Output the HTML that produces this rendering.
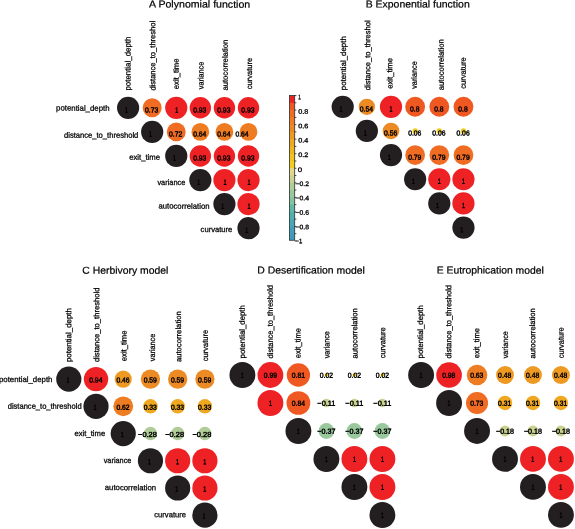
<!DOCTYPE html>
<html><head><meta charset="utf-8"><title>Correlation panels</title>
<style>html,body{margin:0;padding:0;background:#fff;overflow:hidden}svg{display:block}text{font-family:"Liberation Sans", sans-serif;stroke-width:.42px}.l text{stroke-width:.26px}.t{stroke-width:.22px}#colourbar text{stroke-width:.3px}</style></head>
<body>
<svg width="575" height="529" viewBox="0 0 575 529">
<rect width="575" height="529" fill="#fff"/>
<g id="panelA">
<circle cx="128.10" cy="107.80" r="11.10" fill="#231f20"/>
<circle cx="152.18" cy="107.80" r="9.48" fill="#ef6c22"/>
<circle cx="176.26" cy="107.80" r="11.10" fill="#ee2224"/>
<circle cx="200.34" cy="107.80" r="10.70" fill="#ee2224"/>
<circle cx="224.42" cy="107.80" r="10.70" fill="#ee2224"/>
<circle cx="248.50" cy="107.80" r="10.70" fill="#ee2224"/>
<circle cx="152.18" cy="131.88" r="11.10" fill="#231f20"/>
<circle cx="176.26" cy="131.88" r="9.42" fill="#ef6c22"/>
<circle cx="200.34" cy="131.88" r="8.88" fill="#ee7c22"/>
<circle cx="224.42" cy="131.88" r="8.88" fill="#ee7c22"/>
<circle cx="248.50" cy="131.88" r="8.88" fill="#ee7c22"/>
<circle cx="176.26" cy="155.96" r="11.10" fill="#231f20"/>
<circle cx="200.34" cy="155.96" r="10.70" fill="#ee2224"/>
<circle cx="224.42" cy="155.96" r="10.70" fill="#ee2224"/>
<circle cx="248.50" cy="155.96" r="10.70" fill="#ee2224"/>
<circle cx="200.34" cy="180.04" r="11.10" fill="#231f20"/>
<circle cx="224.42" cy="180.04" r="11.10" fill="#ee2224"/>
<circle cx="248.50" cy="180.04" r="11.10" fill="#ee2224"/>
<circle cx="224.42" cy="204.12" r="11.10" fill="#231f20"/>
<circle cx="248.50" cy="204.12" r="11.10" fill="#ee2224"/>
<circle cx="248.50" cy="228.20" r="11.10" fill="#231f20"/>
<text transform="translate(124.90 112.40) rotate(0.1)" font-size="7.35" fill="#000" stroke="#000" textLength="3.00" lengthAdjust="spacingAndGlyphs">1</text>
<text transform="translate(144.98 112.40) rotate(0.1)" font-size="7.35" fill="#000" stroke="#000" textLength="13.20" lengthAdjust="spacingAndGlyphs">0.73</text>
<text transform="translate(175.36 112.40) rotate(0.1)" font-size="7.35" fill="#000" stroke="#000" textLength="3.00" lengthAdjust="spacingAndGlyphs">1</text>
<text transform="translate(193.14 112.40) rotate(0.1)" font-size="7.35" fill="#000" stroke="#000" textLength="13.20" lengthAdjust="spacingAndGlyphs">0.93</text>
<text transform="translate(217.22 112.40) rotate(0.1)" font-size="7.35" fill="#000" stroke="#000" textLength="13.20" lengthAdjust="spacingAndGlyphs">0.93</text>
<text transform="translate(241.30 112.40) rotate(0.1)" font-size="7.35" fill="#000" stroke="#000" textLength="13.20" lengthAdjust="spacingAndGlyphs">0.93</text>
<text transform="translate(148.98 136.48) rotate(0.1)" font-size="7.35" fill="#000" stroke="#000" textLength="3.00" lengthAdjust="spacingAndGlyphs">1</text>
<text transform="translate(169.06 136.48) rotate(0.1)" font-size="7.35" fill="#000" stroke="#000" textLength="13.20" lengthAdjust="spacingAndGlyphs">0.72</text>
<text transform="translate(193.14 136.48) rotate(0.1)" font-size="7.35" fill="#000" stroke="#000" textLength="13.20" lengthAdjust="spacingAndGlyphs">0.64</text>
<text transform="translate(217.22 136.48) rotate(0.1)" font-size="7.35" fill="#000" stroke="#000" textLength="13.20" lengthAdjust="spacingAndGlyphs">0.64</text>
<text transform="translate(235.40 136.48) rotate(0.1)" font-size="7.35" fill="#000" stroke="#000" textLength="13.20" lengthAdjust="spacingAndGlyphs">0.64</text>
<text transform="translate(173.06 160.56) rotate(0.1)" font-size="7.35" fill="#000" stroke="#000" textLength="3.00" lengthAdjust="spacingAndGlyphs">1</text>
<text transform="translate(193.14 160.56) rotate(0.1)" font-size="7.35" fill="#000" stroke="#000" textLength="13.20" lengthAdjust="spacingAndGlyphs">0.93</text>
<text transform="translate(217.22 160.56) rotate(0.1)" font-size="7.35" fill="#000" stroke="#000" textLength="13.20" lengthAdjust="spacingAndGlyphs">0.93</text>
<text transform="translate(241.30 160.56) rotate(0.1)" font-size="7.35" fill="#000" stroke="#000" textLength="13.20" lengthAdjust="spacingAndGlyphs">0.93</text>
<text transform="translate(197.14 184.64) rotate(0.1)" font-size="7.35" fill="#000" stroke="#000" textLength="3.00" lengthAdjust="spacingAndGlyphs">1</text>
<text transform="translate(223.52 184.64) rotate(0.1)" font-size="7.35" fill="#000" stroke="#000" textLength="3.00" lengthAdjust="spacingAndGlyphs">1</text>
<text transform="translate(247.60 184.64) rotate(0.1)" font-size="7.35" fill="#000" stroke="#000" textLength="3.00" lengthAdjust="spacingAndGlyphs">1</text>
<text transform="translate(221.22 208.72) rotate(0.1)" font-size="7.35" fill="#000" stroke="#000" textLength="3.00" lengthAdjust="spacingAndGlyphs">1</text>
<text transform="translate(247.60 208.72) rotate(0.1)" font-size="7.35" fill="#000" stroke="#000" textLength="3.00" lengthAdjust="spacingAndGlyphs">1</text>
<text transform="translate(245.30 232.80) rotate(0.1)" font-size="7.35" fill="#000" stroke="#000" textLength="3.00" lengthAdjust="spacingAndGlyphs">1</text>
<g class="l">
<text transform="translate(56.10 110.60) rotate(0.1)" font-size="7.80" fill="#000" stroke="#000" textLength="53.40" lengthAdjust="spacingAndGlyphs">potential_depth</text>
<text transform="translate(64.00 137.70) rotate(0.1)" font-size="7.80" fill="#000" stroke="#000" textLength="74.30" lengthAdjust="spacingAndGlyphs">distance_to_threshold</text>
<text transform="translate(129.20 159.70) rotate(0.1)" font-size="7.80" fill="#000" stroke="#000" textLength="30.80" lengthAdjust="spacingAndGlyphs">exit_time</text>
<text transform="translate(157.40 185.00) rotate(0.1)" font-size="7.80" fill="#000" stroke="#000" textLength="27.90" lengthAdjust="spacingAndGlyphs">variance</text>
<text transform="translate(158.40 208.60) rotate(0.1)" font-size="7.80" fill="#000" stroke="#000" textLength="51.20" lengthAdjust="spacingAndGlyphs">autocorrelation</text>
<text transform="translate(200.60 232.00) rotate(0.1)" font-size="7.80" fill="#000" stroke="#000" textLength="31.70" lengthAdjust="spacingAndGlyphs">curvature</text>
<text transform="translate(130.50 90.60) rotate(-90.1)" font-size="7.80" fill="#000" stroke="#000" textLength="54.00" lengthAdjust="spacingAndGlyphs">potential_depth</text>
<text transform="translate(155.38 90.60) rotate(-90.1)" font-size="7.80" fill="#000" stroke="#000" textLength="69.80" lengthAdjust="spacingAndGlyphs">distance_to_threshol</text>
<text transform="translate(178.66 89.20) rotate(-90.1)" font-size="7.80" fill="#000" stroke="#000" textLength="30.70" lengthAdjust="spacingAndGlyphs">exit_time</text>
<text transform="translate(203.54 89.20) rotate(-90.1)" font-size="7.80" fill="#000" stroke="#000" textLength="27.50" lengthAdjust="spacingAndGlyphs">variance</text>
<text transform="translate(227.82 90.60) rotate(-90.1)" font-size="7.80" fill="#000" stroke="#000" textLength="50.90" lengthAdjust="spacingAndGlyphs">autocorrelation</text>
<text transform="translate(252.00 89.20) rotate(-90.1)" font-size="7.80" fill="#000" stroke="#000" textLength="31.50" lengthAdjust="spacingAndGlyphs">curvature</text>
</g>
<text transform="translate(149.00 7.50) rotate(0.1)" font-size="10.05" fill="#000" stroke="#000" textLength="101.20" lengthAdjust="spacingAndGlyphs" class="t">A Polynomial function</text>
</g>
<g id="panelB">
<circle cx="342.70" cy="106.80" r="11.10" fill="#231f20"/>
<circle cx="366.85" cy="106.80" r="8.16" fill="#ec8a24"/>
<circle cx="391.00" cy="106.80" r="11.10" fill="#ee2224"/>
<circle cx="415.15" cy="106.80" r="9.93" fill="#f05822"/>
<circle cx="439.30" cy="106.80" r="9.93" fill="#f05822"/>
<circle cx="463.45" cy="106.80" r="9.93" fill="#f05822"/>
<circle cx="366.85" cy="130.95" r="11.10" fill="#231f20"/>
<circle cx="391.00" cy="130.95" r="8.31" fill="#ec8a24"/>
<circle cx="415.15" cy="130.95" r="2.72" fill="#f1cd22"/>
<circle cx="439.30" cy="130.95" r="2.72" fill="#f1cd22"/>
<circle cx="463.45" cy="130.95" r="2.72" fill="#f1cd22"/>
<circle cx="391.00" cy="155.10" r="11.10" fill="#231f20"/>
<circle cx="415.15" cy="155.10" r="9.87" fill="#ef6c22"/>
<circle cx="439.30" cy="155.10" r="9.87" fill="#ef6c22"/>
<circle cx="463.45" cy="155.10" r="9.87" fill="#ef6c22"/>
<circle cx="415.15" cy="179.25" r="11.10" fill="#231f20"/>
<circle cx="439.30" cy="179.25" r="11.10" fill="#ee2224"/>
<circle cx="463.45" cy="179.25" r="11.10" fill="#ee2224"/>
<circle cx="439.30" cy="203.40" r="11.10" fill="#231f20"/>
<circle cx="463.45" cy="203.40" r="11.10" fill="#ee2224"/>
<circle cx="463.45" cy="227.55" r="11.10" fill="#231f20"/>
<text transform="translate(339.50 111.40) rotate(0.1)" font-size="7.35" fill="#000" stroke="#000" textLength="3.00" lengthAdjust="spacingAndGlyphs">1</text>
<text transform="translate(359.85 111.40) rotate(0.1)" font-size="7.35" fill="#000" stroke="#000" textLength="13.20" lengthAdjust="spacingAndGlyphs">0.54</text>
<text transform="translate(389.50 111.40) rotate(0.1)" font-size="7.35" fill="#000" stroke="#000" textLength="3.00" lengthAdjust="spacingAndGlyphs">1</text>
<text transform="translate(410.05 111.40) rotate(0.1)" font-size="7.35" fill="#000" stroke="#000" textLength="9.40" lengthAdjust="spacingAndGlyphs">0.8</text>
<text transform="translate(434.20 111.40) rotate(0.1)" font-size="7.35" fill="#000" stroke="#000" textLength="9.40" lengthAdjust="spacingAndGlyphs">0.8</text>
<text transform="translate(458.35 111.40) rotate(0.1)" font-size="7.35" fill="#000" stroke="#000" textLength="9.40" lengthAdjust="spacingAndGlyphs">0.8</text>
<text transform="translate(363.65 135.55) rotate(0.1)" font-size="7.35" fill="#000" stroke="#000" textLength="3.00" lengthAdjust="spacingAndGlyphs">1</text>
<text transform="translate(384.00 135.55) rotate(0.1)" font-size="7.35" fill="#000" stroke="#000" textLength="13.20" lengthAdjust="spacingAndGlyphs">0.56</text>
<text transform="translate(408.15 135.55) rotate(0.1)" font-size="7.35" fill="#000" stroke="#000" textLength="13.20" lengthAdjust="spacingAndGlyphs">0.06</text>
<text transform="translate(432.30 135.55) rotate(0.1)" font-size="7.35" fill="#000" stroke="#000" textLength="13.20" lengthAdjust="spacingAndGlyphs">0.06</text>
<text transform="translate(456.45 135.55) rotate(0.1)" font-size="7.35" fill="#000" stroke="#000" textLength="13.20" lengthAdjust="spacingAndGlyphs">0.06</text>
<text transform="translate(387.80 159.70) rotate(0.1)" font-size="7.35" fill="#000" stroke="#000" textLength="3.00" lengthAdjust="spacingAndGlyphs">1</text>
<text transform="translate(408.15 159.70) rotate(0.1)" font-size="7.35" fill="#000" stroke="#000" textLength="13.20" lengthAdjust="spacingAndGlyphs">0.79</text>
<text transform="translate(432.30 159.70) rotate(0.1)" font-size="7.35" fill="#000" stroke="#000" textLength="13.20" lengthAdjust="spacingAndGlyphs">0.79</text>
<text transform="translate(456.45 159.70) rotate(0.1)" font-size="7.35" fill="#000" stroke="#000" textLength="13.20" lengthAdjust="spacingAndGlyphs">0.79</text>
<text transform="translate(411.95 183.85) rotate(0.1)" font-size="7.35" fill="#000" stroke="#000" textLength="3.00" lengthAdjust="spacingAndGlyphs">1</text>
<text transform="translate(437.80 183.85) rotate(0.1)" font-size="7.35" fill="#000" stroke="#000" textLength="3.00" lengthAdjust="spacingAndGlyphs">1</text>
<text transform="translate(461.95 183.85) rotate(0.1)" font-size="7.35" fill="#000" stroke="#000" textLength="3.00" lengthAdjust="spacingAndGlyphs">1</text>
<text transform="translate(436.10 208.00) rotate(0.1)" font-size="7.35" fill="#000" stroke="#000" textLength="3.00" lengthAdjust="spacingAndGlyphs">1</text>
<text transform="translate(461.95 208.00) rotate(0.1)" font-size="7.35" fill="#000" stroke="#000" textLength="3.00" lengthAdjust="spacingAndGlyphs">1</text>
<text transform="translate(460.25 232.15) rotate(0.1)" font-size="7.35" fill="#000" stroke="#000" textLength="3.00" lengthAdjust="spacingAndGlyphs">1</text>
<g class="l">
<text transform="translate(346.10 90.20) rotate(-90.1)" font-size="7.80" fill="#000" stroke="#000" textLength="54.00" lengthAdjust="spacingAndGlyphs">potential_depth</text>
<text transform="translate(370.25 90.20) rotate(-90.1)" font-size="7.80" fill="#000" stroke="#000" textLength="69.80" lengthAdjust="spacingAndGlyphs">distance_to_threshol</text>
<text transform="translate(392.40 88.80) rotate(-90.1)" font-size="7.80" fill="#000" stroke="#000" textLength="30.70" lengthAdjust="spacingAndGlyphs">exit_time</text>
<text transform="translate(416.75 88.80) rotate(-90.1)" font-size="7.80" fill="#000" stroke="#000" textLength="27.50" lengthAdjust="spacingAndGlyphs">variance</text>
<text transform="translate(443.70 90.20) rotate(-90.1)" font-size="7.80" fill="#000" stroke="#000" textLength="50.90" lengthAdjust="spacingAndGlyphs">autocorrelation</text>
<text transform="translate(465.85 88.80) rotate(-90.1)" font-size="7.80" fill="#000" stroke="#000" textLength="31.50" lengthAdjust="spacingAndGlyphs">curvature</text>
</g>
<text transform="translate(365.70 7.40) rotate(0.1)" font-size="10.05" fill="#000" stroke="#000" textLength="104.00" lengthAdjust="spacingAndGlyphs" class="t">B Exponential function</text>
</g>
<g id="panelC">
<circle cx="68.80" cy="379.10" r="12.60" fill="#231f20"/>
<circle cx="96.02" cy="379.10" r="12.22" fill="#ee2224"/>
<circle cx="123.24" cy="379.10" r="8.55" fill="#ee9a22"/>
<circle cx="150.46" cy="379.10" r="9.68" fill="#ec8a24"/>
<circle cx="177.68" cy="379.10" r="9.68" fill="#ec8a24"/>
<circle cx="204.90" cy="379.10" r="9.68" fill="#ec8a24"/>
<circle cx="96.02" cy="406.32" r="12.60" fill="#231f20"/>
<circle cx="123.24" cy="406.32" r="9.92" fill="#ee7c22"/>
<circle cx="150.46" cy="406.32" r="7.24" fill="#efa820"/>
<circle cx="177.68" cy="406.32" r="7.24" fill="#efa820"/>
<circle cx="204.90" cy="406.32" r="7.24" fill="#efa820"/>
<circle cx="123.24" cy="433.54" r="12.60" fill="#231f20"/>
<circle cx="150.46" cy="433.54" r="6.67" fill="#b0cc98"/>
<circle cx="177.68" cy="433.54" r="6.67" fill="#b0cc98"/>
<circle cx="204.90" cy="433.54" r="6.67" fill="#b0cc98"/>
<circle cx="150.46" cy="460.76" r="12.60" fill="#231f20"/>
<circle cx="177.68" cy="460.76" r="12.60" fill="#ee2224"/>
<circle cx="204.90" cy="460.76" r="12.60" fill="#ee2224"/>
<circle cx="177.68" cy="487.98" r="12.60" fill="#231f20"/>
<circle cx="204.90" cy="487.98" r="12.60" fill="#ee2224"/>
<circle cx="204.90" cy="515.20" r="12.60" fill="#231f20"/>
<text transform="translate(66.40 382.50) rotate(0.1)" font-size="7.35" fill="#000" stroke="#000" textLength="3.00" lengthAdjust="spacingAndGlyphs">1</text>
<text transform="translate(89.22 382.50) rotate(0.1)" font-size="7.35" fill="#000" stroke="#000" textLength="13.20" lengthAdjust="spacingAndGlyphs">0.94</text>
<text transform="translate(116.44 382.50) rotate(0.1)" font-size="7.35" fill="#000" stroke="#000" textLength="13.20" lengthAdjust="spacingAndGlyphs">0.46</text>
<text transform="translate(143.66 382.50) rotate(0.1)" font-size="7.35" fill="#000" stroke="#000" textLength="13.20" lengthAdjust="spacingAndGlyphs">0.59</text>
<text transform="translate(170.88 382.50) rotate(0.1)" font-size="7.35" fill="#000" stroke="#000" textLength="13.20" lengthAdjust="spacingAndGlyphs">0.59</text>
<text transform="translate(198.10 382.50) rotate(0.1)" font-size="7.35" fill="#000" stroke="#000" textLength="13.20" lengthAdjust="spacingAndGlyphs">0.59</text>
<text transform="translate(93.62 409.72) rotate(0.1)" font-size="7.35" fill="#000" stroke="#000" textLength="3.00" lengthAdjust="spacingAndGlyphs">1</text>
<text transform="translate(116.44 409.72) rotate(0.1)" font-size="7.35" fill="#000" stroke="#000" textLength="13.20" lengthAdjust="spacingAndGlyphs">0.62</text>
<text transform="translate(143.66 409.72) rotate(0.1)" font-size="7.35" fill="#000" stroke="#000" textLength="13.20" lengthAdjust="spacingAndGlyphs">0.33</text>
<text transform="translate(170.88 409.72) rotate(0.1)" font-size="7.35" fill="#000" stroke="#000" textLength="13.20" lengthAdjust="spacingAndGlyphs">0.33</text>
<text transform="translate(198.10 409.72) rotate(0.1)" font-size="7.35" fill="#000" stroke="#000" textLength="13.20" lengthAdjust="spacingAndGlyphs">0.33</text>
<text transform="translate(120.84 436.94) rotate(0.1)" font-size="7.35" fill="#000" stroke="#000" textLength="3.00" lengthAdjust="spacingAndGlyphs">1</text>
<text transform="translate(138.06 436.94) rotate(0.1)" font-size="7.35" fill="#000" stroke="#000" textLength="18.80" lengthAdjust="spacingAndGlyphs">−0.28</text>
<text transform="translate(165.28 436.94) rotate(0.1)" font-size="7.35" fill="#000" stroke="#000" textLength="18.80" lengthAdjust="spacingAndGlyphs">−0.28</text>
<text transform="translate(192.50 436.94) rotate(0.1)" font-size="7.35" fill="#000" stroke="#000" textLength="18.80" lengthAdjust="spacingAndGlyphs">−0.28</text>
<text transform="translate(148.06 464.16) rotate(0.1)" font-size="7.35" fill="#000" stroke="#000" textLength="3.00" lengthAdjust="spacingAndGlyphs">1</text>
<text transform="translate(175.98 464.16) rotate(0.1)" font-size="7.35" fill="#000" stroke="#000" textLength="3.00" lengthAdjust="spacingAndGlyphs">1</text>
<text transform="translate(203.20 464.16) rotate(0.1)" font-size="7.35" fill="#000" stroke="#000" textLength="3.00" lengthAdjust="spacingAndGlyphs">1</text>
<text transform="translate(175.28 491.38) rotate(0.1)" font-size="7.35" fill="#000" stroke="#000" textLength="3.00" lengthAdjust="spacingAndGlyphs">1</text>
<text transform="translate(203.20 491.38) rotate(0.1)" font-size="7.35" fill="#000" stroke="#000" textLength="3.00" lengthAdjust="spacingAndGlyphs">1</text>
<text transform="translate(202.50 518.60) rotate(0.1)" font-size="7.35" fill="#000" stroke="#000" textLength="3.00" lengthAdjust="spacingAndGlyphs">1</text>
<g class="l">
<text transform="translate(-1.00 382.00) rotate(0.1)" font-size="7.80" fill="#000" stroke="#000" textLength="53.40" lengthAdjust="spacingAndGlyphs">potential_depth</text>
<text transform="translate(7.70 408.70) rotate(0.1)" font-size="7.80" fill="#000" stroke="#000" textLength="73.90" lengthAdjust="spacingAndGlyphs">distance_to_threshold</text>
<text transform="translate(74.50 435.90) rotate(0.1)" font-size="7.80" fill="#000" stroke="#000" textLength="30.70" lengthAdjust="spacingAndGlyphs">exit_time</text>
<text transform="translate(103.70 463.00) rotate(0.1)" font-size="7.80" fill="#000" stroke="#000" textLength="27.70" lengthAdjust="spacingAndGlyphs">variance</text>
<text transform="translate(104.80 490.10) rotate(0.1)" font-size="7.80" fill="#000" stroke="#000" textLength="51.30" lengthAdjust="spacingAndGlyphs">autocorrelation</text>
<text transform="translate(154.30 517.20) rotate(0.1)" font-size="7.80" fill="#000" stroke="#000" textLength="31.70" lengthAdjust="spacingAndGlyphs">curvature</text>
<text transform="translate(71.30 362.10) rotate(-90.1)" font-size="7.80" fill="#000" stroke="#000" textLength="54.00" lengthAdjust="spacingAndGlyphs">potential_depth</text>
<text transform="translate(99.32 362.10) rotate(-90.1)" font-size="7.80" fill="#000" stroke="#000" textLength="74.50" lengthAdjust="spacingAndGlyphs">distance_to_threshold</text>
<text transform="translate(126.54 361.20) rotate(-90.1)" font-size="7.80" fill="#000" stroke="#000" textLength="30.70" lengthAdjust="spacingAndGlyphs">exit_time</text>
<text transform="translate(154.96 361.20) rotate(-90.1)" font-size="7.80" fill="#000" stroke="#000" textLength="27.50" lengthAdjust="spacingAndGlyphs">variance</text>
<text transform="translate(181.18 362.10) rotate(-90.1)" font-size="7.80" fill="#000" stroke="#000" textLength="50.90" lengthAdjust="spacingAndGlyphs">autocorrelation</text>
<text transform="translate(207.90 361.20) rotate(-90.1)" font-size="7.80" fill="#000" stroke="#000" textLength="31.50" lengthAdjust="spacingAndGlyphs">curvature</text>
</g>
<text transform="translate(82.30 273.70) rotate(0.1)" font-size="10.05" fill="#000" stroke="#000" textLength="86.00" lengthAdjust="spacingAndGlyphs" class="t">C Herbivory model</text>
</g>
<g id="panelD">
<circle cx="242.40" cy="375.00" r="12.95" fill="#231f20"/>
<circle cx="270.40" cy="375.00" r="12.89" fill="#ee2224"/>
<circle cx="298.40" cy="375.00" r="11.65" fill="#f05822"/>
<circle cx="326.40" cy="375.00" r="1.83" fill="#f1cd22"/>
<circle cx="354.40" cy="375.00" r="1.83" fill="#f1cd22"/>
<circle cx="382.40" cy="375.00" r="1.83" fill="#f1cd22"/>
<circle cx="270.40" cy="403.00" r="12.95" fill="#ee2224"/>
<circle cx="298.40" cy="403.00" r="11.87" fill="#f05822"/>
<circle cx="326.40" cy="403.00" r="4.30" fill="#cad191"/>
<circle cx="354.40" cy="403.00" r="4.30" fill="#cad191"/>
<circle cx="382.40" cy="403.00" r="4.30" fill="#cad191"/>
<circle cx="298.40" cy="431.00" r="12.95" fill="#231f20"/>
<circle cx="326.40" cy="431.00" r="7.88" fill="#98c89c"/>
<circle cx="354.40" cy="431.00" r="7.88" fill="#98c89c"/>
<circle cx="382.40" cy="431.00" r="7.88" fill="#98c89c"/>
<circle cx="326.40" cy="459.00" r="12.95" fill="#231f20"/>
<circle cx="354.40" cy="459.00" r="12.95" fill="#ee2224"/>
<circle cx="382.40" cy="459.00" r="12.95" fill="#ee2224"/>
<circle cx="354.40" cy="487.00" r="12.95" fill="#231f20"/>
<circle cx="382.40" cy="487.00" r="12.95" fill="#ee2224"/>
<circle cx="382.40" cy="515.00" r="12.95" fill="#231f20"/>
<text transform="translate(240.80 377.80) rotate(0.1)" font-size="7.35" fill="#000" stroke="#000" textLength="3.00" lengthAdjust="spacingAndGlyphs">1</text>
<text transform="translate(263.80 377.80) rotate(0.1)" font-size="7.35" fill="#000" stroke="#000" textLength="13.20" lengthAdjust="spacingAndGlyphs">0.99</text>
<text transform="translate(291.80 377.80) rotate(0.1)" font-size="7.35" fill="#000" stroke="#000" textLength="13.20" lengthAdjust="spacingAndGlyphs">0.81</text>
<text transform="translate(319.80 377.80) rotate(0.1)" font-size="7.35" fill="#000" stroke="#000" textLength="13.20" lengthAdjust="spacingAndGlyphs">0.02</text>
<text transform="translate(347.80 377.80) rotate(0.1)" font-size="7.35" fill="#000" stroke="#000" textLength="13.20" lengthAdjust="spacingAndGlyphs">0.02</text>
<text transform="translate(375.80 377.80) rotate(0.1)" font-size="7.35" fill="#000" stroke="#000" textLength="13.20" lengthAdjust="spacingAndGlyphs">0.02</text>
<text transform="translate(268.90 405.80) rotate(0.1)" font-size="7.35" fill="#000" stroke="#000" textLength="3.00" lengthAdjust="spacingAndGlyphs">1</text>
<text transform="translate(291.80 405.80) rotate(0.1)" font-size="7.35" fill="#000" stroke="#000" textLength="13.20" lengthAdjust="spacingAndGlyphs">0.84</text>
<text transform="translate(317.35 405.80) rotate(0.1)" font-size="7.35" fill="#000" stroke="#000" textLength="18.10" lengthAdjust="spacingAndGlyphs">−0.11</text>
<text transform="translate(345.35 405.80) rotate(0.1)" font-size="7.35" fill="#000" stroke="#000" textLength="18.10" lengthAdjust="spacingAndGlyphs">−0.11</text>
<text transform="translate(373.35 405.80) rotate(0.1)" font-size="7.35" fill="#000" stroke="#000" textLength="18.10" lengthAdjust="spacingAndGlyphs">−0.11</text>
<text transform="translate(296.80 433.80) rotate(0.1)" font-size="7.35" fill="#000" stroke="#000" textLength="3.00" lengthAdjust="spacingAndGlyphs">1</text>
<text transform="translate(317.35 433.80) rotate(0.1)" font-size="7.35" fill="#000" stroke="#000" textLength="18.10" lengthAdjust="spacingAndGlyphs">−0.37</text>
<text transform="translate(345.35 433.80) rotate(0.1)" font-size="7.35" fill="#000" stroke="#000" textLength="18.10" lengthAdjust="spacingAndGlyphs">−0.37</text>
<text transform="translate(373.35 433.80) rotate(0.1)" font-size="7.35" fill="#000" stroke="#000" textLength="18.10" lengthAdjust="spacingAndGlyphs">−0.37</text>
<text transform="translate(324.80 461.80) rotate(0.1)" font-size="7.35" fill="#000" stroke="#000" textLength="3.00" lengthAdjust="spacingAndGlyphs">1</text>
<text transform="translate(352.90 461.80) rotate(0.1)" font-size="7.35" fill="#000" stroke="#000" textLength="3.00" lengthAdjust="spacingAndGlyphs">1</text>
<text transform="translate(380.90 461.80) rotate(0.1)" font-size="7.35" fill="#000" stroke="#000" textLength="3.00" lengthAdjust="spacingAndGlyphs">1</text>
<text transform="translate(352.80 489.80) rotate(0.1)" font-size="7.35" fill="#000" stroke="#000" textLength="3.00" lengthAdjust="spacingAndGlyphs">1</text>
<text transform="translate(380.90 489.80) rotate(0.1)" font-size="7.35" fill="#000" stroke="#000" textLength="3.00" lengthAdjust="spacingAndGlyphs">1</text>
<text transform="translate(380.80 517.80) rotate(0.1)" font-size="7.35" fill="#000" stroke="#000" textLength="3.00" lengthAdjust="spacingAndGlyphs">1</text>
<g class="l">
<text transform="translate(244.90 358.40) rotate(-90.1)" font-size="7.80" fill="#000" stroke="#000" textLength="53.19" lengthAdjust="spacingAndGlyphs">potential_depth</text>
<text transform="translate(272.90 358.40) rotate(-90.1)" font-size="7.80" fill="#000" stroke="#000" textLength="73.38" lengthAdjust="spacingAndGlyphs">distance_to_threshold</text>
<text transform="translate(300.60 358.30) rotate(-90.1)" font-size="7.80" fill="#000" stroke="#000" textLength="30.24" lengthAdjust="spacingAndGlyphs">exit_time</text>
<text transform="translate(329.40 358.30) rotate(-90.1)" font-size="7.80" fill="#000" stroke="#000" textLength="27.09" lengthAdjust="spacingAndGlyphs">variance</text>
<text transform="translate(357.40 358.40) rotate(-90.1)" font-size="7.80" fill="#000" stroke="#000" textLength="50.14" lengthAdjust="spacingAndGlyphs">autocorrelation</text>
<text transform="translate(385.30 358.30) rotate(-90.1)" font-size="7.80" fill="#000" stroke="#000" textLength="31.03" lengthAdjust="spacingAndGlyphs">curvature</text>
</g>
<text transform="translate(257.30 273.50) rotate(0.1)" font-size="10.05" fill="#000" stroke="#000" textLength="107.50" lengthAdjust="spacingAndGlyphs" class="t">D Desertification model</text>
</g>
<g id="panelE">
<circle cx="421.10" cy="375.00" r="12.95" fill="#231f20"/>
<circle cx="449.07" cy="375.00" r="12.82" fill="#ee2224"/>
<circle cx="477.04" cy="375.00" r="10.28" fill="#ee7c22"/>
<circle cx="505.01" cy="375.00" r="8.97" fill="#ee9a22"/>
<circle cx="532.98" cy="375.00" r="8.97" fill="#ee9a22"/>
<circle cx="560.95" cy="375.00" r="8.97" fill="#ee9a22"/>
<circle cx="449.07" cy="402.97" r="12.95" fill="#231f20"/>
<circle cx="477.04" cy="402.97" r="11.06" fill="#ef6c22"/>
<circle cx="505.01" cy="402.97" r="7.21" fill="#efa820"/>
<circle cx="532.98" cy="402.97" r="7.21" fill="#efa820"/>
<circle cx="560.95" cy="402.97" r="7.21" fill="#efa820"/>
<circle cx="477.04" cy="430.94" r="12.95" fill="#231f20"/>
<circle cx="505.01" cy="430.94" r="5.49" fill="#cad191"/>
<circle cx="532.98" cy="430.94" r="5.49" fill="#cad191"/>
<circle cx="560.95" cy="430.94" r="5.49" fill="#cad191"/>
<circle cx="505.01" cy="458.91" r="12.95" fill="#231f20"/>
<circle cx="532.98" cy="458.91" r="12.95" fill="#ee2224"/>
<circle cx="560.95" cy="458.91" r="12.95" fill="#ee2224"/>
<circle cx="532.98" cy="486.88" r="12.95" fill="#231f20"/>
<circle cx="560.95" cy="486.88" r="12.95" fill="#ee2224"/>
<circle cx="560.95" cy="514.85" r="12.95" fill="#231f20"/>
<text transform="translate(419.60 377.80) rotate(0.1)" font-size="7.35" fill="#000" stroke="#000" textLength="3.00" lengthAdjust="spacingAndGlyphs">1</text>
<text transform="translate(442.17 377.80) rotate(0.1)" font-size="7.35" fill="#000" stroke="#000" textLength="13.20" lengthAdjust="spacingAndGlyphs">0.98</text>
<text transform="translate(470.14 377.80) rotate(0.1)" font-size="7.35" fill="#000" stroke="#000" textLength="13.20" lengthAdjust="spacingAndGlyphs">0.63</text>
<text transform="translate(498.11 377.80) rotate(0.1)" font-size="7.35" fill="#000" stroke="#000" textLength="13.20" lengthAdjust="spacingAndGlyphs">0.48</text>
<text transform="translate(526.08 377.80) rotate(0.1)" font-size="7.35" fill="#000" stroke="#000" textLength="13.20" lengthAdjust="spacingAndGlyphs">0.48</text>
<text transform="translate(554.05 377.80) rotate(0.1)" font-size="7.35" fill="#000" stroke="#000" textLength="13.20" lengthAdjust="spacingAndGlyphs">0.48</text>
<text transform="translate(447.57 405.77) rotate(0.1)" font-size="7.35" fill="#000" stroke="#000" textLength="3.00" lengthAdjust="spacingAndGlyphs">1</text>
<text transform="translate(470.14 405.77) rotate(0.1)" font-size="7.35" fill="#000" stroke="#000" textLength="13.20" lengthAdjust="spacingAndGlyphs">0.73</text>
<text transform="translate(498.11 405.77) rotate(0.1)" font-size="7.35" fill="#000" stroke="#000" textLength="13.20" lengthAdjust="spacingAndGlyphs">0.31</text>
<text transform="translate(526.08 405.77) rotate(0.1)" font-size="7.35" fill="#000" stroke="#000" textLength="13.20" lengthAdjust="spacingAndGlyphs">0.31</text>
<text transform="translate(554.05 405.77) rotate(0.1)" font-size="7.35" fill="#000" stroke="#000" textLength="13.20" lengthAdjust="spacingAndGlyphs">0.31</text>
<text transform="translate(475.54 433.74) rotate(0.1)" font-size="7.35" fill="#000" stroke="#000" textLength="3.00" lengthAdjust="spacingAndGlyphs">1</text>
<text transform="translate(495.96 433.74) rotate(0.1)" font-size="7.35" fill="#000" stroke="#000" textLength="18.10" lengthAdjust="spacingAndGlyphs">−0.18</text>
<text transform="translate(523.93 433.74) rotate(0.1)" font-size="7.35" fill="#000" stroke="#000" textLength="18.10" lengthAdjust="spacingAndGlyphs">−0.18</text>
<text transform="translate(551.90 433.74) rotate(0.1)" font-size="7.35" fill="#000" stroke="#000" textLength="18.10" lengthAdjust="spacingAndGlyphs">−0.18</text>
<text transform="translate(503.51 461.71) rotate(0.1)" font-size="7.35" fill="#000" stroke="#000" textLength="3.00" lengthAdjust="spacingAndGlyphs">1</text>
<text transform="translate(531.18 461.71) rotate(0.1)" font-size="7.35" fill="#000" stroke="#000" textLength="3.00" lengthAdjust="spacingAndGlyphs">1</text>
<text transform="translate(559.15 461.71) rotate(0.1)" font-size="7.35" fill="#000" stroke="#000" textLength="3.00" lengthAdjust="spacingAndGlyphs">1</text>
<text transform="translate(531.48 489.68) rotate(0.1)" font-size="7.35" fill="#000" stroke="#000" textLength="3.00" lengthAdjust="spacingAndGlyphs">1</text>
<text transform="translate(559.15 489.68) rotate(0.1)" font-size="7.35" fill="#000" stroke="#000" textLength="3.00" lengthAdjust="spacingAndGlyphs">1</text>
<text transform="translate(559.45 517.65) rotate(0.1)" font-size="7.35" fill="#000" stroke="#000" textLength="3.00" lengthAdjust="spacingAndGlyphs">1</text>
<g class="l">
<text transform="translate(423.10 358.40) rotate(-90.1)" font-size="7.80" fill="#000" stroke="#000" textLength="53.19" lengthAdjust="spacingAndGlyphs">potential_depth</text>
<text transform="translate(451.27 358.40) rotate(-90.1)" font-size="7.80" fill="#000" stroke="#000" textLength="73.38" lengthAdjust="spacingAndGlyphs">distance_to_threshold</text>
<text transform="translate(479.24 358.30) rotate(-90.1)" font-size="7.80" fill="#000" stroke="#000" textLength="30.24" lengthAdjust="spacingAndGlyphs">exit_time</text>
<text transform="translate(507.91 358.30) rotate(-90.1)" font-size="7.80" fill="#000" stroke="#000" textLength="27.09" lengthAdjust="spacingAndGlyphs">variance</text>
<text transform="translate(535.18 358.40) rotate(-90.1)" font-size="7.80" fill="#000" stroke="#000" textLength="50.14" lengthAdjust="spacingAndGlyphs">autocorrelation</text>
<text transform="translate(563.65 358.30) rotate(-90.1)" font-size="7.80" fill="#000" stroke="#000" textLength="31.03" lengthAdjust="spacingAndGlyphs">curvature</text>
</g>
<text transform="translate(436.70 273.50) rotate(0.1)" font-size="10.05" fill="#000" stroke="#000" textLength="107.10" lengthAdjust="spacingAndGlyphs" class="t">E Eutrophication model</text>
</g>
<g id="colourbar">
<rect x="289.45" y="95.55" width="5.25" height="7.87" fill="#ee2224"/>
<rect x="289.45" y="102.82" width="5.25" height="7.87" fill="#f05822"/>
<rect x="289.45" y="110.09" width="5.25" height="7.87" fill="#ef6c22"/>
<rect x="289.45" y="117.36" width="5.25" height="7.87" fill="#ee7c22"/>
<rect x="289.45" y="124.63" width="5.25" height="7.87" fill="#ec8a24"/>
<rect x="289.45" y="131.90" width="5.25" height="7.87" fill="#ee9a22"/>
<rect x="289.45" y="139.17" width="5.25" height="7.87" fill="#efa820"/>
<rect x="289.45" y="146.44" width="5.25" height="7.87" fill="#f0b61e"/>
<rect x="289.45" y="153.71" width="5.25" height="7.87" fill="#f2c41c"/>
<rect x="289.45" y="160.98" width="5.25" height="7.87" fill="#f1cd22"/>
<rect x="289.45" y="168.25" width="5.25" height="7.87" fill="#e2d68c"/>
<rect x="289.45" y="175.52" width="5.25" height="7.87" fill="#cad191"/>
<rect x="289.45" y="182.79" width="5.25" height="7.87" fill="#b0cc98"/>
<rect x="289.45" y="190.06" width="5.25" height="7.87" fill="#98c89c"/>
<rect x="289.45" y="197.33" width="5.25" height="7.87" fill="#84c4a0"/>
<rect x="289.45" y="204.60" width="5.25" height="7.87" fill="#60b9a4"/>
<rect x="289.45" y="211.87" width="5.25" height="7.87" fill="#50b1ac"/>
<rect x="289.45" y="219.14" width="5.25" height="7.87" fill="#48a8b4"/>
<rect x="289.45" y="226.41" width="5.25" height="7.87" fill="#42a0ba"/>
<rect x="289.45" y="233.68" width="5.25" height="6.57" fill="#3e9bbe"/>
<rect x="289.45" y="95.55" width="5.25" height="144.70" fill="none" stroke="#2b2e30" stroke-width="0.8"/>
<line x1="294.70" y1="95.55" x2="296.40" y2="95.55" stroke="#231f20" stroke-width="0.8"/>
<line x1="294.70" y1="102.82" x2="296.40" y2="102.82" stroke="#231f20" stroke-width="0.8"/>
<line x1="294.70" y1="110.09" x2="296.40" y2="110.09" stroke="#231f20" stroke-width="0.8"/>
<line x1="294.70" y1="117.36" x2="296.40" y2="117.36" stroke="#231f20" stroke-width="0.8"/>
<line x1="294.70" y1="124.63" x2="296.40" y2="124.63" stroke="#231f20" stroke-width="0.8"/>
<line x1="294.70" y1="131.90" x2="296.40" y2="131.90" stroke="#231f20" stroke-width="0.8"/>
<line x1="294.70" y1="139.17" x2="296.40" y2="139.17" stroke="#231f20" stroke-width="0.8"/>
<line x1="294.70" y1="146.44" x2="296.40" y2="146.44" stroke="#231f20" stroke-width="0.8"/>
<line x1="294.70" y1="153.71" x2="296.40" y2="153.71" stroke="#231f20" stroke-width="0.8"/>
<line x1="294.70" y1="160.98" x2="296.40" y2="160.98" stroke="#231f20" stroke-width="0.8"/>
<line x1="294.70" y1="168.25" x2="296.40" y2="168.25" stroke="#231f20" stroke-width="0.8"/>
<line x1="294.70" y1="175.52" x2="296.40" y2="175.52" stroke="#231f20" stroke-width="0.8"/>
<line x1="294.70" y1="182.79" x2="296.40" y2="182.79" stroke="#231f20" stroke-width="0.8"/>
<line x1="294.70" y1="190.06" x2="296.40" y2="190.06" stroke="#231f20" stroke-width="0.8"/>
<line x1="294.70" y1="197.33" x2="296.40" y2="197.33" stroke="#231f20" stroke-width="0.8"/>
<line x1="294.70" y1="204.60" x2="296.40" y2="204.60" stroke="#231f20" stroke-width="0.8"/>
<line x1="294.70" y1="211.87" x2="296.40" y2="211.87" stroke="#231f20" stroke-width="0.8"/>
<line x1="294.70" y1="219.14" x2="296.40" y2="219.14" stroke="#231f20" stroke-width="0.8"/>
<line x1="294.70" y1="226.41" x2="296.40" y2="226.41" stroke="#231f20" stroke-width="0.8"/>
<line x1="294.70" y1="233.68" x2="296.40" y2="233.68" stroke="#231f20" stroke-width="0.8"/>
<line x1="294.70" y1="240.95" x2="296.40" y2="240.95" stroke="#231f20" stroke-width="0.8"/>
<text transform="translate(298.30 99.25) rotate(0.1)" font-size="6.50" fill="#000" stroke="#000" textLength="2.60" lengthAdjust="spacingAndGlyphs">1</text>
<text transform="translate(298.30 113.69) rotate(0.1)" font-size="6.50" fill="#000" stroke="#000" textLength="10.10" lengthAdjust="spacingAndGlyphs">0.8</text>
<text transform="translate(298.30 128.13) rotate(0.1)" font-size="6.50" fill="#000" stroke="#000" textLength="10.10" lengthAdjust="spacingAndGlyphs">0.6</text>
<text transform="translate(298.30 142.57) rotate(0.1)" font-size="6.50" fill="#000" stroke="#000" textLength="10.10" lengthAdjust="spacingAndGlyphs">0.4</text>
<text transform="translate(298.30 157.01) rotate(0.1)" font-size="6.50" fill="#000" stroke="#000" textLength="10.10" lengthAdjust="spacingAndGlyphs">0.2</text>
<text transform="translate(297.80 171.95) rotate(0.1)" font-size="6.50" fill="#000" stroke="#000" textLength="4.40" lengthAdjust="spacingAndGlyphs">0</text>
<text transform="translate(295.60 185.89) rotate(0.1)" font-size="6.50" fill="#000" stroke="#000" textLength="13.40" lengthAdjust="spacingAndGlyphs">−0.2</text>
<text transform="translate(295.60 200.33) rotate(0.1)" font-size="6.50" fill="#000" stroke="#000" textLength="13.40" lengthAdjust="spacingAndGlyphs">−0.4</text>
<text transform="translate(295.60 214.77) rotate(0.1)" font-size="6.50" fill="#000" stroke="#000" textLength="13.40" lengthAdjust="spacingAndGlyphs">−0.6</text>
<text transform="translate(295.60 229.21) rotate(0.1)" font-size="6.50" fill="#000" stroke="#000" textLength="13.40" lengthAdjust="spacingAndGlyphs">−0.8</text>
<text transform="translate(295.60 243.35) rotate(0.1)" font-size="6.50" fill="#000" stroke="#000" textLength="6.80" lengthAdjust="spacingAndGlyphs">−1</text>
</g>
</svg></body></html>
